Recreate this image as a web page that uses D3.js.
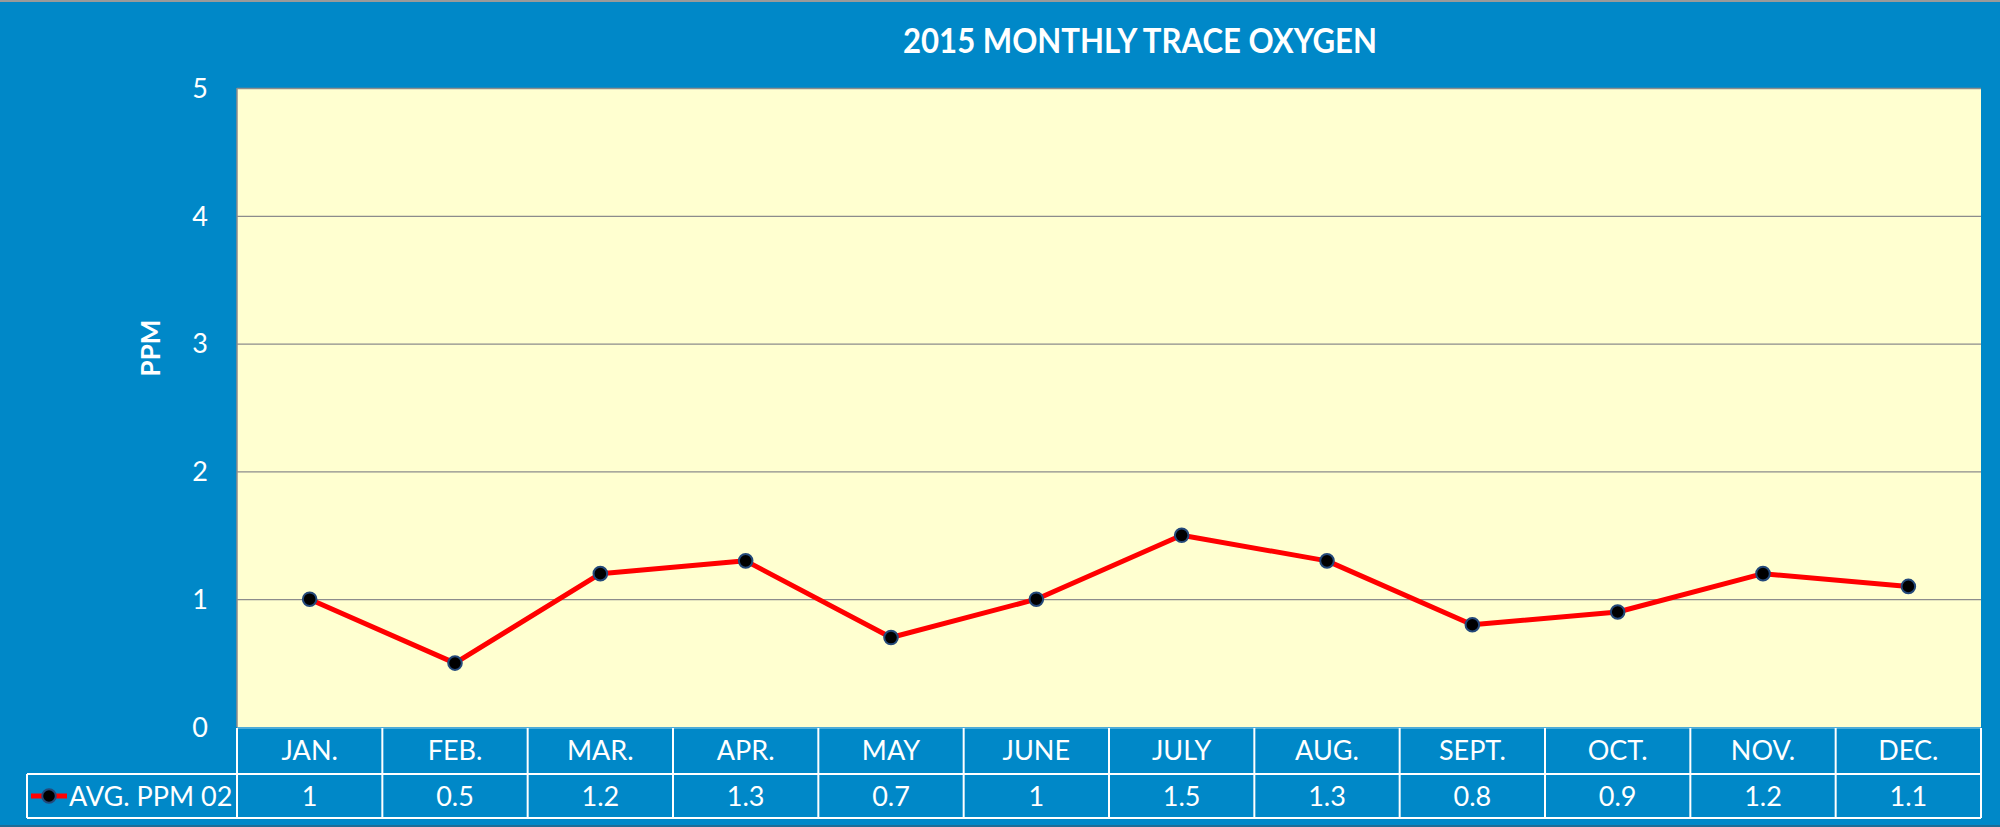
<!DOCTYPE html>
<html>
<head>
<meta charset="utf-8">
<script src="https://cdn.jsdelivr.net/npm/d3@7"></script>
<style>
  html, body { margin: 0; padding: 0; background: #0088c8; }
  svg { display: block; font-family: Lato, "Open Sans", sans-serif; }
</style>
</head>
<body>
<svg id="chart"></svg>
<script>
const months = ["JAN.", "FEB.", "MAR.", "APR.", "MAY", "JUNE", "JULY", "AUG.", "SEPT.", "OCT.", "NOV.", "DEC."];
const ppmValues = [1, 0.5, 1.2, 1.3, 0.7, 1, 1.5, 1.3, 0.8, 0.9, 1.2, 1.1];
const yTicks = [0, 1, 2, 3, 4, 5];
const seriesName = "AVG. PPM 02";
const chartTitle = "2015 MONTHLY TRACE OXYGEN";
const yTitle = "PPM";

const width = 2000;
const height = 827;
const margin = { top: 88, right: 19, bottom: 99, left: 237 };
const tableLeft = 27;
const rowH = 44;

const svg = d3.select("#chart").attr("width", width).attr("height", height);

// frame
svg.append("rect").attr("width", width).attr("height", height).attr("fill", "#0088c8");
svg.append("line").attr("x1", 0).attr("x2", width).attr("y1", 1).attr("y2", 1)
  .attr("stroke", "#9a9a9a").attr("stroke-width", 2);
svg.append("line").attr("x1", 0).attr("x2", width).attr("y1", 826).attr("y2", 826)
  .attr("stroke", "#1d6c96").attr("stroke-width", 2);

const x = d3.scaleBand().domain(months).range([margin.left, width - margin.right]);
const y = d3.scaleLinear().domain([0, 5]).range([height - margin.bottom - 1, margin.top]);
const plotBottom = y(0);

// plot area
svg.append("rect")
  .attr("x", margin.left).attr("y", margin.top)
  .attr("width", x.range()[1] - margin.left).attr("height", plotBottom - margin.top)
  .attr("fill", "#ffffd0");

// gridlines
svg.append("g")
  .attr("transform", `translate(${margin.left},0)`)
  .call(d3.axisLeft(y).tickValues(yTicks.slice(1)).tickSize(-(x.range()[1] - margin.left)).tickFormat(""))
  .call((g) => g.select(".domain").remove())
  .call((g) => g.selectAll("line").attr("stroke", "#8c8c8c").attr("stroke-width", 1.3));

svg.append("line")
  .attr("x1", margin.left).attr("x2", margin.left)
  .attr("y1", margin.top).attr("y2", plotBottom)
  .attr("stroke", "#8c8c8c").attr("stroke-width", 1.5);

// y labels
svg.append("g")
  .selectAll("text")
  .data(yTicks)
  .join("text")
  .attr("x", 208)
  .attr("y", (d) => y(d))
  .attr("dy", "0.36em")
  .attr("text-anchor", "end")
  .attr("fill", "#fff")
  .attr("font-size", 27)
  .text((d) => d);

svg.append("text")
  .attr("transform", "translate(160,348) rotate(-90)")
  .attr("text-anchor", "middle")
  .attr("fill", "#fff")
  .attr("font-size", 26)
  .attr("font-weight", 700)
  .text(yTitle);

svg.append("text")
  .attr("x", 1140).attr("y", 53)
  .attr("text-anchor", "middle")
  .attr("fill", "#fff")
  .attr("font-size", 35)
  .attr("font-weight", 700)
  .attr("textLength", 474)
  .attr("lengthAdjust", "spacingAndGlyphs")
  .text(chartTitle);

// series line
const line = d3.line()
  .x((d, i) => x(months[i]) + x.bandwidth() / 2)
  .y((d) => y(d));

svg.append("path")
  .datum(ppmValues)
  .attr("d", line)
  .attr("fill", "none")
  .attr("stroke", "#ff0000")
  .attr("stroke-width", 5)
  .attr("stroke-linejoin", "round");

svg.append("g")
  .selectAll("circle")
  .data(ppmValues)
  .join("circle")
  .attr("cx", (d, i) => x(months[i]) + x.bandwidth() / 2)
  .attr("cy", (d) => y(d))
  .attr("r", 6.8)
  .attr("fill", "#000")
  .attr("stroke", "#24497a")
  .attr("stroke-width", 2);

// data table
const table = svg.append("g").attr("stroke", "#fff").attr("stroke-width", 2);
const row1 = plotBottom + 1;
const row2 = row1 + 46;
const row3 = row2 + rowH;
const tableRight = x.range()[1];

table.append("line").attr("x1", margin.left).attr("x2", tableRight).attr("y1", row1).attr("y2", row1).attr("stroke-width", 1).attr("stroke-opacity", 0.6);
table.append("line").attr("x1", tableLeft).attr("x2", tableRight).attr("y1", row2).attr("y2", row2);
table.append("line").attr("x1", tableLeft).attr("x2", tableRight).attr("y1", row3).attr("y2", row3);
table.append("line").attr("x1", tableLeft).attr("x2", tableLeft).attr("y1", row2).attr("y2", row3);
table.selectAll(".vline")
  .data([...months.map((m) => x(m)), tableRight])
  .join("line")
  .attr("class", "vline")
  .attr("x1", (d) => d).attr("x2", (d) => d)
  .attr("y1", row1).attr("y2", row3);

svg.append("g")
  .selectAll("text")
  .data(months)
  .join("text")
  .attr("x", (d) => x(d) + x.bandwidth() / 2)
  .attr("y", row1 + 32)
  .attr("text-anchor", "middle")
  .attr("fill", "#fff")
  .attr("font-size", 27)
  .text((d) => d);

svg.append("g")
  .selectAll("text")
  .data(ppmValues)
  .join("text")
  .attr("x", (d, i) => x(months[i]) + x.bandwidth() / 2)
  .attr("y", row2 + 32)
  .attr("text-anchor", "middle")
  .attr("fill", "#fff")
  .attr("font-size", 27)
  .text((d) => d);

// legend key
const keyY = row2 + rowH / 2;
svg.append("line").attr("x1", 31).attr("x2", 67).attr("y1", keyY).attr("y2", keyY)
  .attr("stroke", "#ff0000").attr("stroke-width", 5);
svg.append("circle").attr("cx", 49).attr("cy", keyY).attr("r", 6.8)
  .attr("fill", "#000").attr("stroke", "#24497a").attr("stroke-width", 2);
svg.append("text")
  .attr("x", 69).attr("y", row2 + 32)
  .attr("fill", "#fff")
  .attr("font-size", 27)
  .text(seriesName);
</script>
</body>
</html>
